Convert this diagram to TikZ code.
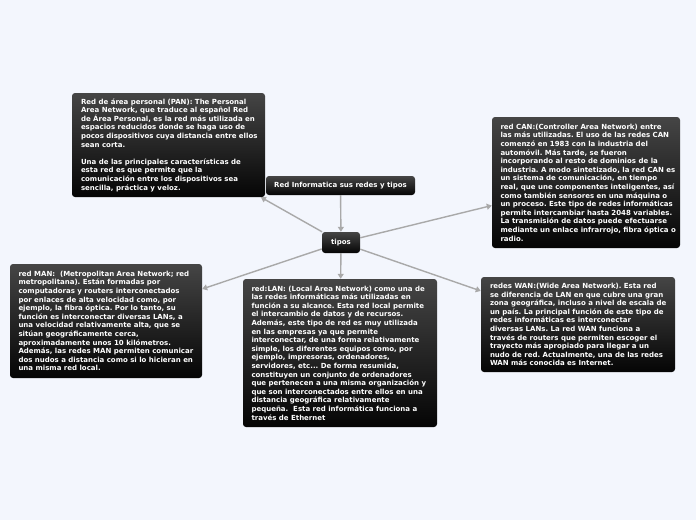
\documentclass[tikz,border=0pt]{standalone}
\usepackage{fontspec}
\setmainfont{DejaVu Sans}
\usetikzlibrary{arrows.meta}
\definecolor{bgc}{HTML}{F3F6FD}
\definecolor{boxtop}{HTML}{454545}
\definecolor{boxbot}{HTML}{050505}
\definecolor{linec}{HTML}{A9A9A9}
\tikzset{
  boxf/.style={rounded corners=3pt, top color=boxtop, bottom color=boxbot, inner sep=0pt},
  txt/.style={text=white, font=\fontsize{7}{8.6}\selectfont\bfseries\frenchspacing, inner sep=0pt, align=left, anchor=west},
  conn/.style={draw=linec, line width=1.4pt, -{Triangle[length=5pt,width=6pt]}}
}
\begin{document}
\begin{tikzpicture}[x=1pt,y=-1pt]
\fill[bgc] (0,0) rectangle (696,520);
\useasboundingbox (0,0) rectangle (696,520);

\node[boxf, minimum width=193pt, minimum height=104pt] (pan) at (168.5,145) {};
\node[txt] (pant) at ([xshift=9pt]pan.west)
{Red de área personal (PAN): The Personal\\
Area Network, que traduce al español Red\\
de Área Personal, es la red más utilizada en\\
espacios reducidos donde se haga uso de\\
pocos dispositivos cuya distancia entre ellos\\
sean corta.\\[8.6pt]
Una de las principales características de\\
esta red es que permite que la\\
comunicación entre los dispositivos sea\\
sencilla, práctica y veloz.};

\node[boxf, minimum width=149pt, minimum height=19pt] (root) at (340.5,185.5) {};
\node[txt, anchor=center] (roott) at (root) {Red Informatica sus redes y tipos};

\node[boxf, minimum width=38pt, minimum height=21pt] (tipos) at (341,242.5) {};
\node[txt, anchor=center] (tipost) at (tipos) {tipos};

\node[boxf, minimum width=188pt, minimum height=131pt] (can) at (586,182.5) {};
\node[txt] (cant) at ([xshift=8.5pt]can.west)
{red CAN:(Controller Area Network) entre\\
las más utilizadas. El uso de las redes CAN\\
comenzó en 1983 con la industria del\\
automóvil. Más tarde, se fueron\\
incorporando al resto de dominios de la\\
industria. A modo sintetizado, la red CAN es\\
un sistema de comunicación, en tiempo\\
real, que une componentes inteligentes, así\\
como también sensores en una máquina o\\
un proceso. Este tipo de redes informáticas\\
permite intercambiar hasta 2048 variables.\\
La transmisión de datos puede efectuarse\\
mediante un enlace infrarrojo, fibra óptica o\\
radio.};

\node[boxf, minimum width=192pt, minimum height=114pt] (man) at (106,321) {};
\node[txt] (mant) at ([xshift=8.5pt]man.west)
{red MAN:\ \ (Metropolitan Area Network; red\\
metropolitana). Están formadas por\\
computadoras y routers interconectados\\
por enlaces de alta velocidad como, por\\
ejemplo, la fibra óptica. Por lo tanto, su\\
función es interconectar diversas LANs, a\\
una velocidad relativamente alta, que se\\
sitúan geográficamente cerca,\\
aproximadamente unos 10 kilómetros.\\
Además, las redes MAN permiten comunicar\\
dos nudos a distancia como si lo hicieran en\\
una misma red local.};

\node[boxf, minimum width=194pt, minimum height=148pt] (lan) at (340,353) {};
\node[txt] (lant) at ([xshift=8.5pt]lan.west)
{red:LAN: (Local Area Network) como una de\\
las redes informáticas más utilizadas en\\
función a su alcance. Esta red local permite\\
el intercambio de datos y de recursos.\\
Además, este tipo de red es muy utilizada\\
en las empresas ya que permite\\
interconectar, de una forma relativamente\\
simple, los diferentes equipos como, por\\
ejemplo, impresoras, ordenadores,\\
servidores, etc... De forma resumida,\\
constituyen un conjunto de ordenadores\\
que pertenecen a una misma organización y\\
que son interconectados entre ellos en una\\
distancia geográfica relativamente\\
pequeña.\ \ Esta red informática funciona a\\
través de Ethernet};

\node[boxf, minimum width=194pt, minimum height=95pt] (wan) at (578,324.5) {};
\node[txt] (want) at ([xshift=9pt]wan.west)
{redes WAN:(Wide Area Network). Esta red\\
se diferencia de LAN en que cubre una gran\\
zona geográfica, incluso a nivel de escala de\\
un país. La principal función de este tipo de\\
redes informáticas es interconectar\\
diversas LANs. La red WAN funciona a\\
través de routers que permiten escoger el\\
trayecto más apropiado para llegar a un\\
nudo de red. Actualmente, una de las redes\\
WAN más conocida es Internet.};

\draw[conn] (root) -- (tipos);
\draw[conn] (tipos) -- (pan);
\draw[conn] (tipos) -- (can);
\draw[conn] (tipos) -- (man);
\draw[conn] (tipos) -- (lan);
\draw[conn] (tipos) -- (wan);
\end{tikzpicture}
\end{document}
